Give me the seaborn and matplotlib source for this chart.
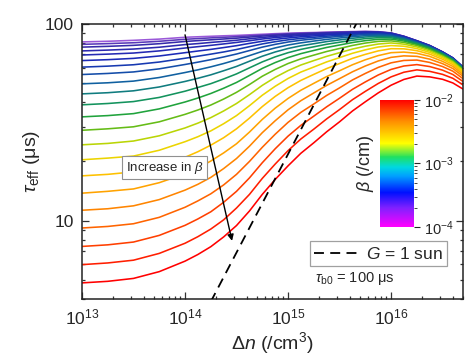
import pandas as pd
import matplotlib
matplotlib.use("Agg")
import matplotlib.pyplot as plt
import seaborn as sns
from matplotlib import ticker
from matplotlib.colors import LinearSegmentedColormap, LogNorm
from matplotlib.lines import Line2D

# injection levels (cm^-3) where the curves were read
delta_n = [1.0e13, 1.78e13, 3.16e13, 5.62e13, 1.0e14, 1.33e14, 1.78e14, 2.37e14,
           3.16e14, 4.22e14, 5.62e14, 7.50e14, 1.0e15, 1.33e15, 1.78e15, 2.37e15,
           3.16e15, 4.22e15, 5.62e15, 7.50e15, 1.0e16, 1.33e16, 1.78e16, 2.37e16,
           3.16e16, 3.98e16, 5.01e16]

# beta (/cm) of each curve, lowest first
beta = [1.00e-4, 1.25e-4, 1.55e-4, 1.93e-4, 2.41e-4, 3.00e-4, 3.74e-4, 4.66e-4,
        5.80e-4, 7.22e-4, 9.00e-4, 1.12e-3, 1.40e-3, 1.74e-3, 2.17e-3, 2.70e-3,
        3.36e-3, 4.19e-3, 5.22e-3, 6.50e-3, 8.10e-3, 1.00e-2]

# tau_eff (us) of every curve at each injection level (same order as beta)
t13_000 = [81.0, 78.7, 76.2, 72.9, 69.5, 65.1, 60.3, 55.3, 49.6, 44.1, 38.8, 33.7, 28.8, 24.3, 20.4, 16.9, 13.8, 11.3, 9.18, 7.40, 5.98, 4.83]
t13_250 = [81.6, 79.4, 76.9, 73.6, 70.2, 65.8, 61.0, 56.0, 50.2, 44.7, 39.4, 34.2, 29.3, 24.7, 20.8, 17.2, 14.1, 11.5, 9.35, 7.54, 6.10, 4.92]
t13_500 = [82.5, 80.2, 77.8, 74.5, 71.1, 66.8, 62.0, 57.0, 51.2, 45.7, 40.3, 35.0, 30.0, 25.4, 21.3, 17.7, 14.5, 11.9, 9.65, 7.79, 6.30, 5.09]
t13_750 = [83.7, 81.6, 79.3, 76.1, 72.9, 68.7, 64.0, 59.1, 53.4, 47.8, 42.3, 37.0, 31.8, 27.0, 22.8, 19.0, 15.6, 12.8, 10.4, 8.42, 6.82, 5.51]
t14_000 = [85.5, 83.5, 81.4, 78.5, 75.4, 71.4, 66.9, 62.2, 56.6, 51.0, 45.5, 40.1, 34.7, 29.6, 25.2, 21.0, 17.3, 14.3, 11.7, 9.47, 7.68, 6.23]
t14_125 = [86.0, 84.2, 82.2, 79.4, 76.6, 72.8, 68.5, 63.9, 58.4, 52.9, 47.5, 42.0, 36.5, 31.3, 26.7, 22.4, 18.5, 15.3, 12.6, 10.2, 8.29, 6.73]
t14_250 = [86.5, 84.9, 83.0, 80.5, 77.8, 74.2, 70.2, 65.8, 60.5, 55.1, 49.7, 44.3, 38.7, 33.4, 28.6, 24.2, 20.1, 16.6, 13.7, 11.1, 9.07, 7.38]
t14_375 = [87.0, 85.5, 83.8, 81.5, 79.1, 75.8, 72.0, 67.9, 62.9, 57.8, 52.5, 47.1, 41.5, 36.1, 31.1, 26.4, 22.1, 18.4, 15.2, 12.4, 10.1, 8.27]
t14_500 = [87.4, 86.1, 84.6, 82.6, 80.5, 77.5, 74.1, 70.3, 65.7, 60.8, 55.7, 50.4, 44.9, 39.4, 34.2, 29.3, 24.6, 20.7, 17.2, 14.1, 11.6, 9.45]
t14_625 = [88.0, 86.9, 85.7, 84.0, 82.1, 79.6, 76.6, 73.2, 69.0, 64.6, 59.8, 54.7, 49.2, 43.7, 38.4, 33.2, 28.2, 23.9, 20.0, 16.5, 13.6, 11.2]
t14_750 = [88.6, 87.7, 86.7, 85.3, 83.8, 81.6, 79.1, 76.2, 72.5, 68.5, 64.1, 59.4, 54.2, 48.7, 43.4, 38.0, 32.7, 28.0, 23.6, 19.7, 16.4, 13.6]
t14_875 = [89.2, 88.5, 87.6, 86.5, 85.2, 83.4, 81.2, 78.7, 75.5, 72.0, 68.0, 63.6, 58.7, 53.5, 48.2, 42.8, 37.3, 32.2, 27.5, 23.2, 19.4, 16.2]
t15_000 = [89.7, 89.1, 88.4, 87.4, 86.3, 84.8, 83.0, 80.9, 78.1, 75.0, 71.4, 67.4, 62.9, 57.9, 52.8, 47.4, 41.8, 36.6, 31.6, 26.9, 22.7, 19.0]
t15_125 = [90.1, 89.6, 89.0, 88.2, 87.3, 86.0, 84.4, 82.6, 80.1, 77.4, 74.2, 70.6, 66.4, 61.8, 56.9, 51.6, 46.0, 40.7, 35.5, 30.5, 26.0, 22.0]
t15_250 = [90.4, 90.0, 89.5, 88.8, 88.0, 86.9, 85.5, 83.9, 81.8, 79.3, 76.5, 73.3, 69.4, 65.1, 60.4, 55.4, 49.9, 44.6, 39.2, 34.0, 29.2, 24.9]
t15_375 = [90.8, 90.4, 90.0, 89.4, 88.7, 87.8, 86.6, 85.3, 83.4, 81.3, 78.8, 75.9, 72.4, 68.4, 64.1, 59.3, 54.0, 48.7, 43.3, 37.9, 32.9, 28.3]
t15_500 = [91.1, 90.8, 90.4, 89.9, 89.3, 88.5, 87.5, 86.4, 84.8, 82.9, 80.7, 78.1, 75.0, 71.4, 67.4, 62.9, 57.8, 52.7, 47.3, 41.9, 36.7, 31.8]
t15_625 = [91.4, 91.1, 90.8, 90.4, 89.9, 89.3, 88.4, 87.4, 86.1, 84.5, 82.6, 80.4, 77.7, 74.5, 70.9, 66.8, 62.0, 57.1, 51.9, 46.5, 41.2, 36.1]
t15_750 = [91.6, 91.4, 91.1, 90.8, 90.4, 89.8, 89.1, 88.3, 87.1, 85.8, 84.2, 82.2, 79.9, 77.0, 73.8, 70.0, 65.7, 61.1, 56.0, 50.7, 45.4, 40.2]
t15_875 = [91.3, 91.1, 90.9, 90.6, 90.3, 89.8, 89.2, 88.5, 87.6, 86.5, 85.1, 83.5, 81.5, 79.0, 76.3, 72.9, 69.0, 64.8, 60.1, 55.0, 49.8, 44.6]
t16_000 = [90.0, 89.8, 89.7, 89.5, 89.2, 88.8, 88.4, 87.8, 87.0, 86.1, 85.0, 83.7, 82.0, 80.0, 77.6, 74.8, 71.4, 67.6, 63.4, 58.7, 53.8, 48.8]
t16_125 = [86.6, 86.5, 86.4, 86.2, 86.0, 85.8, 85.4, 85.0, 84.4, 83.7, 82.9, 81.8, 80.5, 78.9, 77.0, 74.7, 71.9, 68.8, 65.2, 61.1, 56.8, 52.2]
t16_250 = [82.1, 82.1, 82.0, 81.8, 81.7, 81.5, 81.2, 80.9, 80.5, 80.0, 79.3, 78.6, 77.6, 76.4, 74.9, 73.1, 70.9, 68.4, 65.5, 62.1, 58.4, 54.3]
t16_375 = [77.7, 77.6, 77.6, 77.5, 77.3, 77.2, 77.0, 76.7, 76.3, 75.9, 75.4, 74.8, 73.9, 72.9, 71.7, 70.2, 68.4, 66.2, 63.7, 60.7, 57.4, 53.8]
t16_500 = [72.1, 72.0, 72.0, 71.9, 71.8, 71.7, 71.5, 71.3, 71.0, 70.7, 70.2, 69.7, 69.1, 68.3, 67.3, 66.1, 64.5, 62.8, 60.7, 58.2, 55.4, 52.3]
t16_600 = [67.2, 67.2, 67.1, 67.0, 67.0, 66.8, 66.7, 66.5, 66.3, 66.0, 65.7, 65.2, 64.7, 64.0, 63.2, 62.1, 60.8, 59.3, 57.5, 55.3, 52.9, 50.1]
t16_700 = [60.3, 60.2, 60.2, 60.2, 60.1, 60.0, 59.9, 59.8, 59.6, 59.4, 59.1, 58.7, 58.3, 57.8, 57.1, 56.3, 55.3, 54.1, 52.6, 50.9, 48.9, 46.6]

tau_columns = [t13_000, t13_250, t13_500, t13_750, t14_000, t14_125, t14_250,
               t14_375, t14_500, t14_625, t14_750, t14_875, t15_000, t15_125,
               t15_250, t15_375, t15_500, t15_625, t15_750, t15_875, t16_000,
               t16_125, t16_250, t16_375, t16_500, t16_600, t16_700]

# G = 1 sun line
g_dn = [1.5e14, 5.0e15]
g_tau = [3.27, 109.0]

# long table for seaborn
rows = []
for dn, col in zip(delta_n, tau_columns):
    for b, t in zip(beta, col):
        rows.append({"dn": dn, "beta": b, "tau": t})
df = pd.DataFrame(rows)

sns.set_style("ticks")
plt.rcParams["font.family"] = ["Liberation Sans", "DejaVu Sans"]
plt.rcParams["mathtext.fontset"] = "custom"
plt.rcParams["mathtext.rm"] = "Liberation Sans"
plt.rcParams["mathtext.it"] = "Liberation Sans:italic"
plt.rcParams["mathtext.bf"] = "Liberation Sans:bold"

line_cmap = LinearSegmentedColormap.from_list("lines", [
    (0.00, "#9a58d8"), (0.07, "#3a2aa8"), (0.25, "#1a2ab8"), (0.38, "#1060a0"),
    (0.45, "#108a70"), (0.52, "#18a040"), (0.58, "#70c010"), (0.64, "#e0e000"),
    (0.72, "#ffc000"), (0.82, "#ff8000"), (0.92, "#ff3800"), (1.00, "#ff0000")])
bar_cmap = LinearSegmentedColormap.from_list("bar", [
    (0.00, "#ff00ff"), (0.15, "#8020ff"), (0.27, "#0010ff"), (0.40, "#00a0ff"),
    (0.47, "#00d8e0"), (0.55, "#20e060"), (0.66, "#ffff00"), (0.83, "#ff9000"),
    (1.00, "#ff0000")])
norm = LogNorm(1e-4, 1e-2)

fig = plt.figure(figsize=(4.74, 3.62), dpi=100)
ax = fig.add_axes([0.173, 0.174, 0.804, 0.760])

sns.lineplot(data=df, x="dn", y="tau", hue="beta", palette=line_cmap,
             hue_norm=norm, legend=False, estimator=None, lw=1.15, ax=ax)
ax.plot(g_dn, g_tau, color="k", ls=(0, (5.5, 3.5)), lw=1.3, zorder=5)

ax.set_xscale("log")
ax.set_yscale("log")
ax.set_xlim(1e13, 5e16)
ax.set_ylim(4.0, 100)
ax.yaxis.set_major_formatter(ticker.FuncFormatter(lambda v, p: f"{v:g}"))
ax.yaxis.set_minor_formatter(ticker.NullFormatter())
ax.tick_params(which="both", direction="in", top=True, right=True,
               labelsize=12.5, width=0.9, color="#333333")
ax.tick_params(which="major", length=5, pad=6)
ax.tick_params(which="minor", length=2.5)
for s in ax.spines.values():
    s.set_linewidth(1.1)
    s.set_color("#222222")

ax.set_xlabel("$\\Delta n$ (/cm$^3$)", fontsize=14, labelpad=2)
ax.set_ylabel("$\\tau_{\\rm eff}$ (μs)", fontsize=14, labelpad=2)

# annotations
ax.annotate("", xy=(2.86e14, 7.9), xytext=(1.0e14, 88),
            arrowprops=dict(arrowstyle="-|>", color="k", lw=1.0,
                            mutation_scale=9, shrinkA=0, shrinkB=0), zorder=4)
ax.text(0.2165, 0.478, "Increase in $\\beta$", transform=ax.transAxes,
        ha="center", va="center", fontsize=9.5, zorder=6,
        bbox=dict(boxstyle="square,pad=0.25", fc="white", ec="#909090", lw=0.8))
ax.text(0.611, 0.073, "$\\tau_{\\rm b0}$ = 100 μs", transform=ax.transAxes,
        ha="left", va="center", fontsize=10.5)

handle = Line2D([], [], color="k", ls=(0, (5.5, 3.5)), lw=1.3)
leg = ax.legend([handle], ["$G$ = 1 sun"], loc="lower right",
                bbox_to_anchor=(0.958, 0.12), fontsize=12.5, frameon=True,
                fancybox=False, edgecolor="#a0a0a0", framealpha=1,
                handlelength=2.6, borderpad=0.25, handletextpad=0.4,
                borderaxespad=0)
leg.get_frame().set_linewidth(0.9)

# colour bar inset
cax = fig.add_axes([0.8017, 0.373, 0.0717, 0.351])
sm = plt.cm.ScalarMappable(norm=norm, cmap=bar_cmap)
cb = fig.colorbar(sm, cax=cax)
cb.outline.set_visible(False)
cb.set_ticks([1e-4, 1e-3, 1e-2])
cax.tick_params(which="major", labelsize=10.5, length=4, width=0.8)
cax.tick_params(which="minor", length=2, width=0.6)
cb.set_label("$\\beta$ (/cm)", fontsize=13, labelpad=3)
cax.yaxis.set_label_position("left")

fig.savefig("out.png", dpi=100)
